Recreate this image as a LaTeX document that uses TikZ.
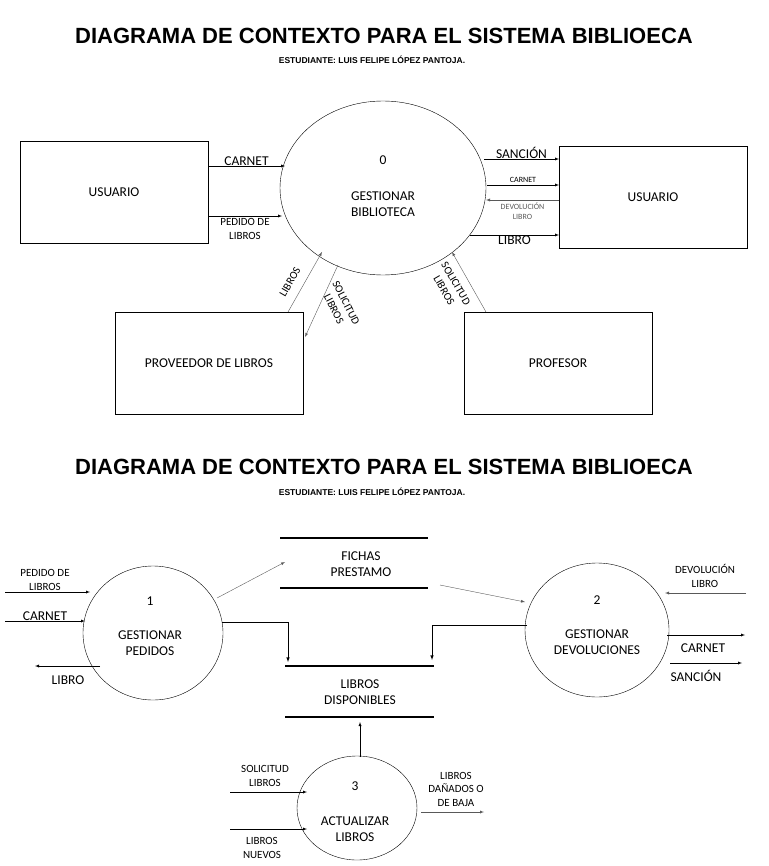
\documentclass[tikz,border=0pt]{standalone}
\usepackage{fontspec}
\setmainfont{Carlito}
\newfontfamily\titlefont{Liberation Sans}
\usetikzlibrary{shapes.geometric}
\begin{document}
\begin{tikzpicture}[x=1pt,y=-1pt,
  box/.style={draw,thick,minimum width=188pt,minimum height=102pt,font=\fontsize{13.5}{16}\selectfont,align=center},
  flow/.style={-latex},
  thin flow/.style={-latex,gray!70!black,thin},
  lab/.style={font=\fontsize{13.5}{16}\selectfont,align=center},
  small/.style={font=\fontsize{11}{13.5}\selectfont,align=center},
  tiny/.style={font=\fontsize{8}{10}\selectfont,align=center},
  title/.style={font=\titlefont\bfseries\fontsize{22}{24}\selectfont},
  sub/.style={font=\titlefont\bfseries\fontsize{8.5}{10}\selectfont},
  store/.style={line width=1.5pt}]
\useasboundingbox (0,0) rectangle (768,866);
\node[title] (t1) at (384,36) {DIAGRAMA DE CONTEXTO PARA EL SISTEMA BIBLIOECA};
\node[sub] (s1) at (372,60) {ESTUDIANTE: LUIS FELIPE LÓPEZ PANTOJA.};
\draw (383,188) ellipse [x radius=103, y radius=87];
\node[lab] (p0a) at (383,160) {0};
\node[lab] (p0) at (383,204) {GESTIONAR\\BIBLIOTECA};
\node[box] (u1) at (114,192) {USUARIO};
\node[box] (u2) at (653,197) {USUARIO};
\node[box] (pv) at (209,363) {PROVEEDOR DE LIBROS};
\node[box] (pf) at (558,363) {PROFESOR};
\coordinate (a1) at (208,166); \coordinate (a1e) at (285,166);
\draw[flow] (a1) -- (a1e) node[lab,midway,above=-3pt] {CARNET};
\coordinate (a2) at (208,216); \coordinate (a2e) at (282,216);
\draw[flow] (a2) -- (a2e) node[small,midway,below=-1pt] {PEDIDO DE\\LIBROS};
\coordinate (b1) at (484,159); \coordinate (b1e) at (559,159);
\draw[flow] (b1) -- (b1e) node[lab,midway,above=-3pt] {SANCIÓN};
\coordinate (b2) at (487,185); \coordinate (b2e) at (559,185);
\draw[flow] (b2) -- (b2e) node[tiny,midway,above=-1pt] {CARNET};
\coordinate (b3) at (559,200); \coordinate (b3e) at (486,200);
\draw[thin flow] (b3) -- (b3e) node[tiny,midway,below=-1pt] {DEVOLUCIÓN\\LIBRO};
\coordinate (b4) at (470,235); \coordinate (b4e) at (559,235);
\draw[flow] (b4) -- (b4e) node[lab,midway,below=-3pt] {LIBRO};
\coordinate (c1) at (288,312); \coordinate (c1e) at (322,252);
\draw[thin flow] (c1) -- (c1e);
\node[small,rotate=60] (c1l) at (290,282) {LIBROS};
\coordinate (c2) at (338,265); \coordinate (c2e) at (305,337);
\draw[thin flow] (c2) -- (c2e);
\node[small,rotate=-63] (c2l) at (340,306) {SOLICITUD\\LIBROS};
\coordinate (c3) at (486,312); \coordinate (c3e) at (452,252);
\draw[thin flow] (c3) -- (c3e);
\node[small,rotate=-60] (c3l) at (450,287) {SOLICITUD\\LIBROS};

\node[title] (t2) at (384,467) {DIAGRAMA DE CONTEXTO PARA EL SISTEMA BIBLIOECA};
\node[sub] (s2) at (372,492) {ESTUDIANTE: LUIS FELIPE LÓPEZ PANTOJA.};
\draw (153,633) ellipse [x radius=70, y radius=67];
\node[lab] (p1a) at (150,601) {1};
\node[lab] (p1) at (150,643) {GESTIONAR\\PEDIDOS};
\draw (597,630) ellipse [x radius=72, y radius=67];
\node[lab] (p2a) at (597,600) {2};
\node[lab] (p2) at (597,642) {GESTIONAR\\DEVOLUCIONES};
\draw (357,808) ellipse [x radius=60, y radius=52];
\node[lab] (p3a) at (355,786) {3};
\node[lab] (p3) at (355,829) {ACTUALIZAR\\LIBROS};
\draw[store] (280,538) -- (428,538); \draw[store] (280,588) -- (428,588);
\node[lab] (fp) at (361,564) {FICHAS\\PRESTAMO};
\draw[store] (285,666) -- (434,666); \draw[store] (285,717) -- (434,717);
\node[lab] (ld) at (360,692) {LIBROS\\DISPONIBLES};
\coordinate (d1) at (217,598); \coordinate (d1e) at (285,562);
\draw[thin flow] (d1) -- (d1e);
\coordinate (d2) at (440,585); \coordinate (d2e) at (525,602);
\draw[thin flow] (d2) -- (d2e);
\coordinate (d3) at (222,622); \coordinate (d3e) at (288,662);
\draw[flow,semithick] (d3) -| (d3e);
\coordinate (d4) at (527,625); \coordinate (d4e) at (432,660);
\draw[flow,semithick] (d4) -| (d4e);
\coordinate (d5) at (360,757); \coordinate (d5e) at (360,722);
\draw[flow] (d5) -- (d5e);
\coordinate (f1) at (5,592); \coordinate (f1e) at (90,592);
\draw[flow] (f1) -- (f1e);
\node[small] (f1l) at (45,580) {PEDIDO DE\\LIBROS};
\coordinate (f2) at (5,621); \coordinate (f2e) at (85,621);
\draw[flow] (f2) -- (f2e) node[lab,pos=0.5,above=-3pt] {CARNET};
\coordinate (f3) at (100,666); \coordinate (f3e) at (35,666);
\draw[flow] (f3) -- (f3e);
\node[lab] (f3l) at (68,680) {LIBRO};
\coordinate (g1) at (746,593); \coordinate (g1e) at (665,593);
\draw[thin flow] (g1) -- (g1e);
\node[small] (g1l) at (705,576) {DEVOLUCIÓN\\LIBRO};
\coordinate (g2) at (667,635); \coordinate (g2e) at (745,635);
\draw[flow] (g2) -- (g2e);
\node[lab] (g2l) at (703,648) {CARNET};
\coordinate (g3) at (670,663); \coordinate (g3e) at (742,663);
\draw[flow] (g3) -- (g3e);
\node[lab] (g3l) at (696,676) {SANCIÓN};
\coordinate (h1) at (230,792); \coordinate (h1e) at (307,792);
\draw[flow] (h1) -- (h1e);
\node[small] (h1l) at (265,776) {SOLICITUD\\LIBROS};
\coordinate (h2) at (230,829); \coordinate (h2e) at (307,829);
\draw[flow] (h2) -- (h2e);
\node[small] (h2l) at (262,848) {LIBROS\\NUEVOS};
\coordinate (h3) at (421,812); \coordinate (h3e) at (484,812);
\draw[thin flow] (h3) -- (h3e);
\node[small] (h3l) at (456,789) {LIBROS\\DAÑADOS O\\DE BAJA};
\end{tikzpicture}
\end{document}
